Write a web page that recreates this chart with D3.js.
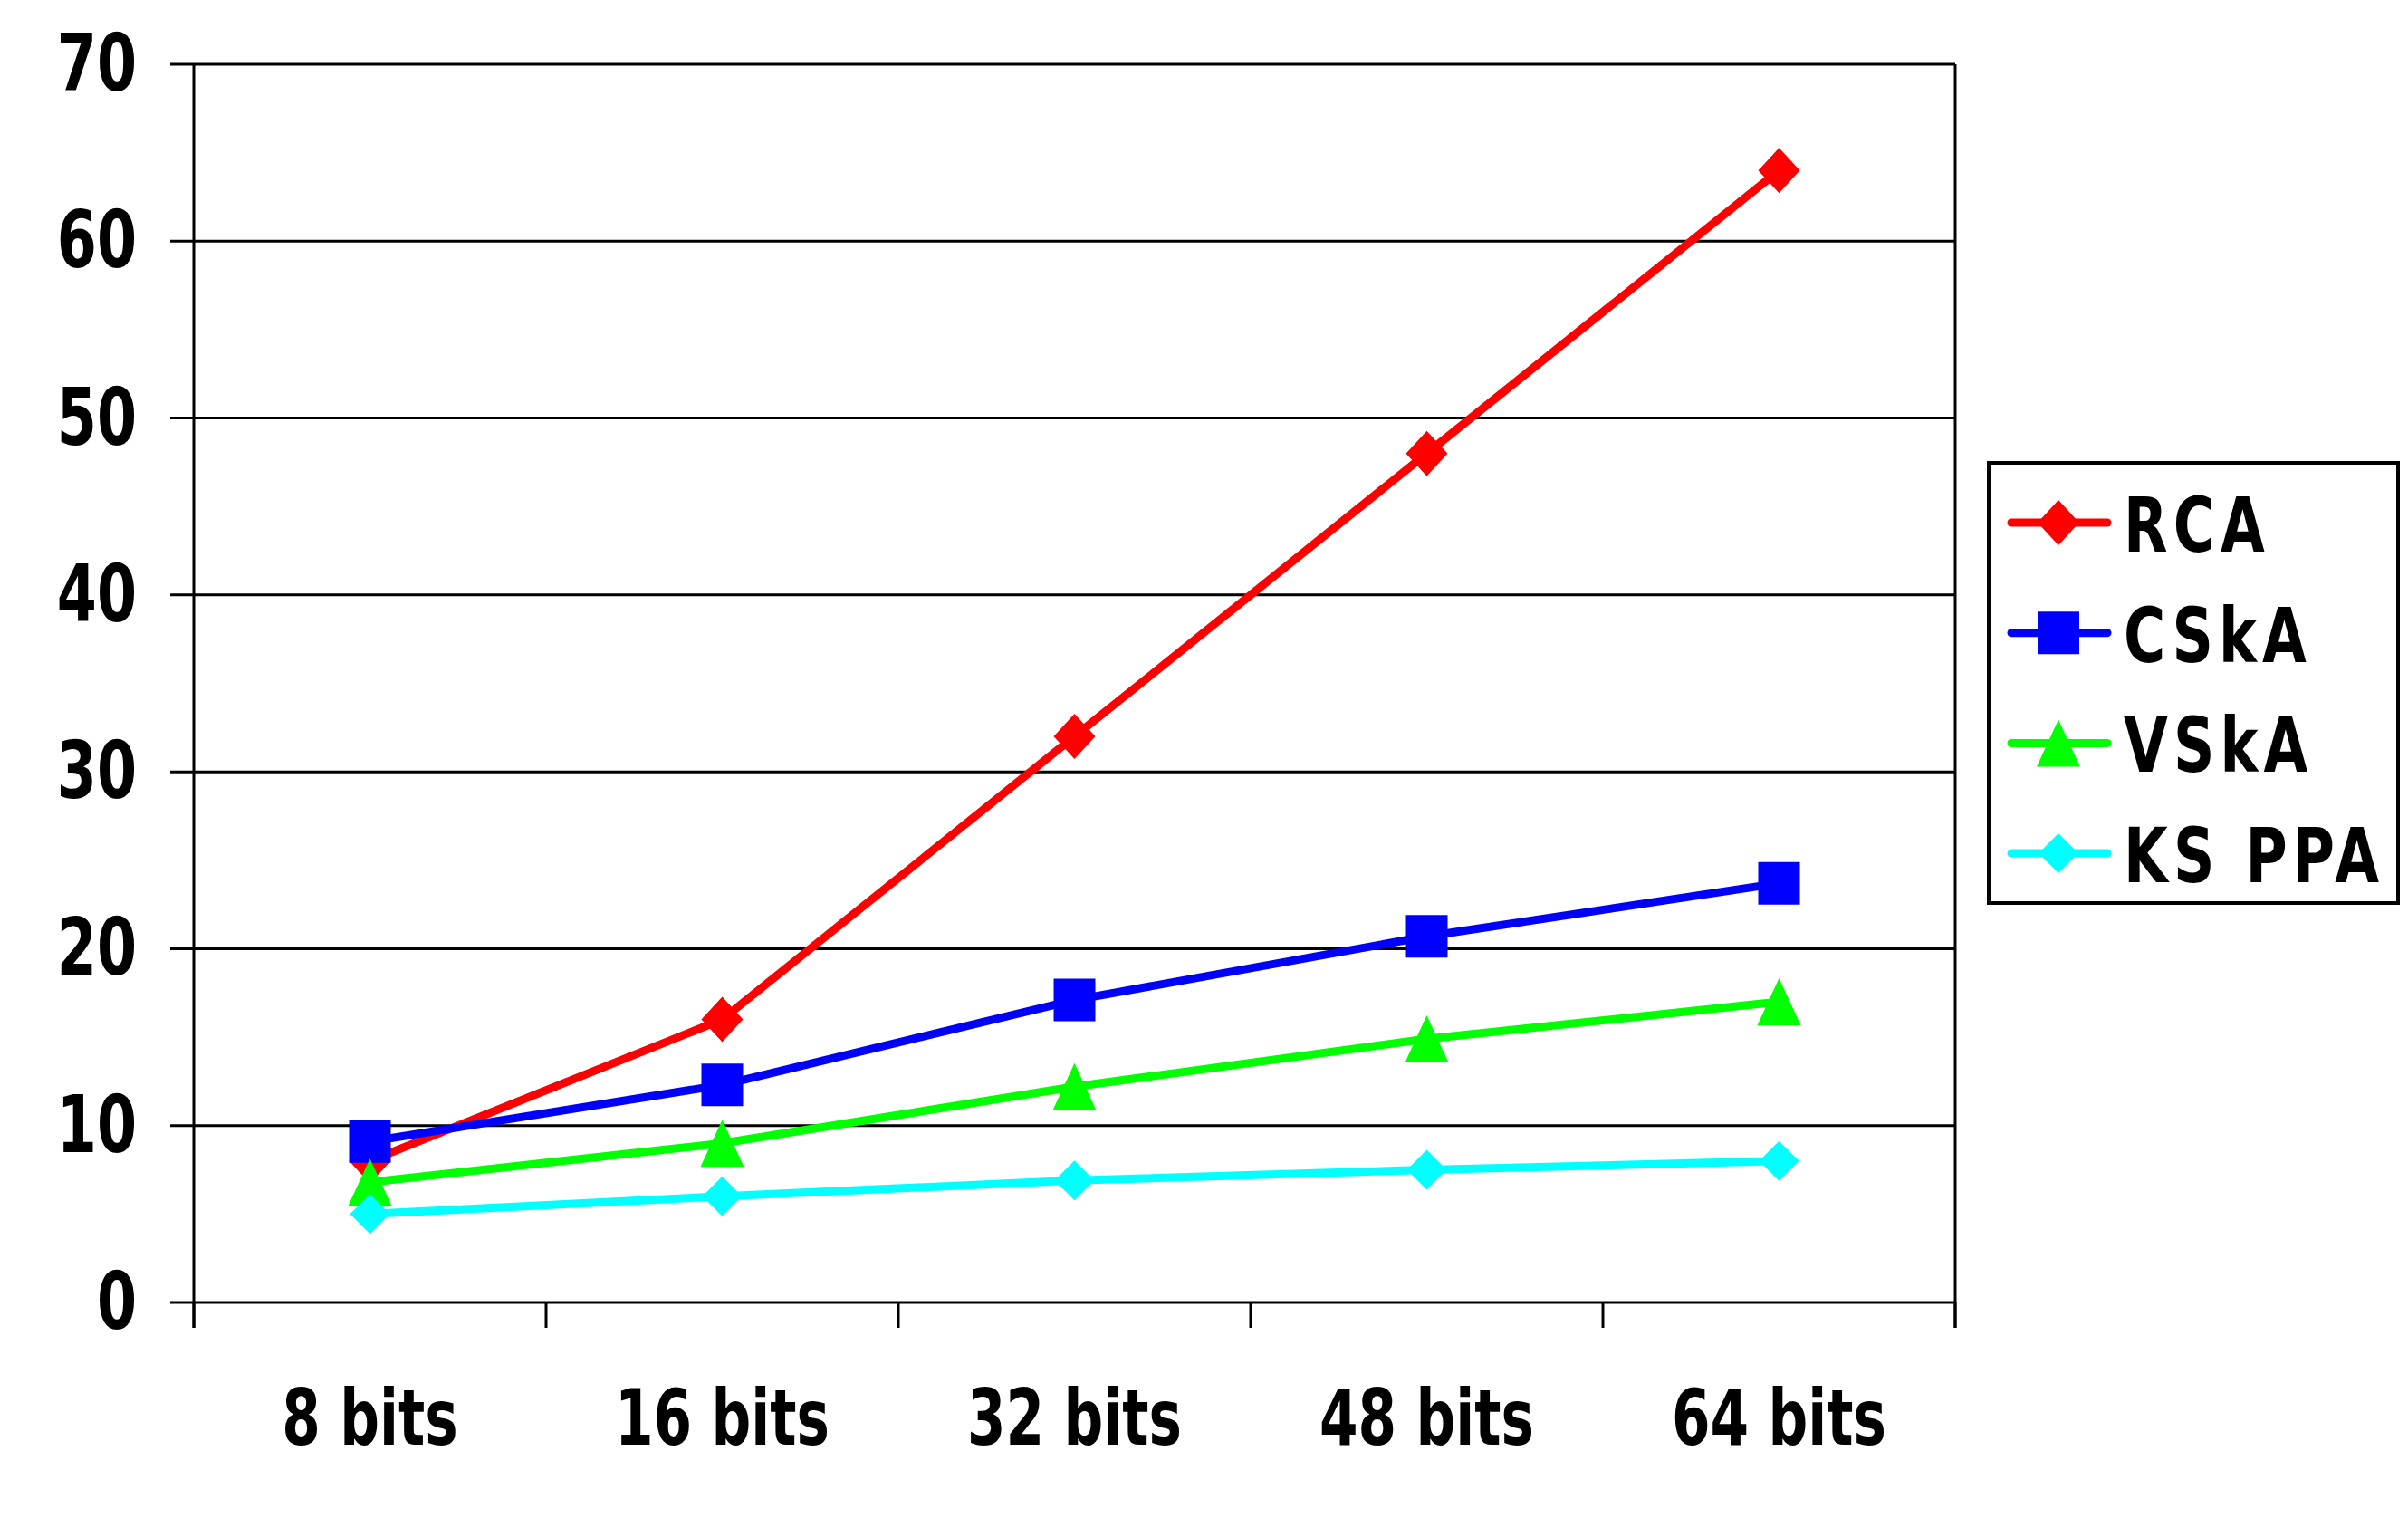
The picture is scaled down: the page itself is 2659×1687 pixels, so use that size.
<!DOCTYPE html>
<html>
<head>
<meta charset="utf-8">
<script src="https://cdn.jsdelivr.net/npm/d3@7"></script>
<style>
  body { margin: 0; background: #fff; }
  text { font-family: "DejaVu Sans", sans-serif; font-weight: bold; fill: #000; }
</style>
</head>
<body>
<svg id="chart" width="2659" height="1687"></svg>
<script>
// data
const categories = ["8 bits", "16 bits", "32 bits", "48 bits", "64 bits"];
const seriesNames = ["RCA", "CSkA", "VSkA", "KS PPA"];
const rca = [8, 16, 32, 48, 64];
const cska = [9.1, 12.3, 17.1, 20.7, 23.7];
const vska = [6.8, 9, 12.2, 14.9, 17];
const ksppa = [5, 6, 6.9, 7.5, 8];
const yTicks = [0, 10, 20, 30, 40, 50, 60, 70];

const colors = ["#ff0000", "#0000ff", "#00ff00", "#00ffff"];
const shapes = ["diamond", "square", "triangle", "diamondSmall"];

const series = seriesNames.map((name, i) => ({
  name,
  values: [rca, cska, vska, ksppa][i],
  color: colors[i],
  shape: shapes[i]
}));

const svg = d3.select("#chart");
const plot = { left: 214, right: 2159, top: 71, bottom: 1438 };
const squeeze = 0.72; // text in the source is narrow

const x = d3.scaleBand().domain(categories).range([plot.left, plot.right]);
const y = d3.scaleLinear().domain([0, 70]).range([plot.bottom, plot.top]);

function markerPath(shape) {
  const p = d3.path();
  if (shape === "diamond") {
    p.moveTo(0, -25); p.lineTo(23, 0); p.lineTo(0, 25); p.lineTo(-23, 0); p.closePath();
  } else if (shape === "diamondSmall") {
    p.moveTo(0, -22); p.lineTo(22, 0); p.lineTo(0, 22); p.lineTo(-22, 0); p.closePath();
  } else if (shape === "square") {
    p.rect(-23, -23.5, 46, 47);
  } else {
    p.moveTo(0, -26); p.lineTo(24, 26); p.lineTo(-24, 26); p.closePath();
  }
  return p.toString();
}

// gridlines + y ticks
svg.append("g")
  .selectAll("line")
  .data(yTicks)
  .join("line")
  .attr("x1", plot.left - 26)
  .attr("x2", plot.right)
  .attr("y1", d => y(d))
  .attr("y2", d => y(d))
  .attr("stroke", "#000")
  .attr("stroke-width", 3);

// plot border (right side) and y axis
svg.append("line")
  .attr("x1", plot.right).attr("x2", plot.right)
  .attr("y1", plot.top).attr("y2", plot.bottom + 28)
  .attr("stroke", "#000").attr("stroke-width", 3);
svg.append("line")
  .attr("x1", plot.left).attr("x2", plot.left)
  .attr("y1", plot.top).attr("y2", plot.bottom + 28)
  .attr("stroke", "#000").attr("stroke-width", 3);

// x ticks at band edges
const edges = categories.map(c => x(c)).concat([plot.right]);
svg.append("g")
  .selectAll("line")
  .data(edges)
  .join("line")
  .attr("x1", d => d).attr("x2", d => d)
  .attr("y1", plot.bottom).attr("y2", plot.bottom + 28)
  .attr("stroke", "#000").attr("stroke-width", 3);

// y labels
svg.append("g")
  .selectAll("text")
  .data(yTicks)
  .join("text")
  .attr("text-anchor", "end")
  .attr("font-size", 88)
  .attr("transform", d => `translate(151,${y(d) + 29}) scale(${squeeze},1)`)
  .text(d => d);

// x labels
svg.append("g")
  .selectAll("text")
  .data(categories)
  .join("text")
  .attr("text-anchor", "middle")
  .attr("font-size", 85)
  .attr("transform", d => `translate(${x(d) + x.bandwidth() / 2},1595) scale(${squeeze},1)`)
  .text(d => d);

// series
const line = d3.line()
  .x((d, i) => x(categories[i]) + x.bandwidth() / 2)
  .y(d => y(d));

series.forEach(s => {
  const g = svg.append("g");
  g.append("path")
    .attr("d", line(s.values))
    .attr("fill", "none")
    .attr("stroke", s.color)
    .attr("stroke-width", 9)
    .attr("stroke-linejoin", "round");
  g.selectAll("path.mk")
    .data(s.values)
    .join("path")
    .attr("class", "mk")
    .attr("d", markerPath(s.shape))
    .attr("transform", (d, i) => `translate(${x(categories[i]) + x.bandwidth() / 2},${y(d)})`)
    .attr("fill", s.color);
});

// legend
const legend = svg.append("g");
legend.append("rect")
  .attr("x", 2196).attr("y", 511)
  .attr("width", 452).attr("height", 486)
  .attr("fill", "#fff").attr("stroke", "#000").attr("stroke-width", 4);

const rows = legend.selectAll("g.row")
  .data(series)
  .join("g")
  .attr("class", "row")
  .attr("transform", (d, i) => `translate(0,${577 + i * 121.7})`);

rows.append("line")
  .attr("x1", 2221).attr("x2", 2327)
  .attr("y1", 0).attr("y2", 0)
  .attr("stroke", d => d.color)
  .attr("stroke-width", 9)
  .attr("stroke-linecap", "round");
rows.append("path")
  .attr("d", d => markerPath(d.shape))
  .attr("transform", "translate(2273,0)")
  .attr("fill", d => d.color);
rows.append("text")
  .attr("font-size", 83)
  .attr("letter-spacing", 8)
  .attr("transform", "translate(2345,32) scale(0.76,1)")
  .text(d => d.name);
</script>
</body>
</html>
